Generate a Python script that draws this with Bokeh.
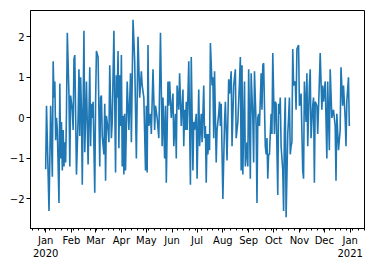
import pandas as pd
from bokeh.plotting import figure
from bokeh.models import FixedTicker, Range1d
from bokeh.embed import file_html
from bokeh.resources import INLINE

# (day offset from 2020-01-01, value)
readings_q1 = [(0,-1.27),(1,0.3),(4,-2.3),(6,0.3),(8,-1.45),(9,1.4),(10,0.5),(11,0.9),(12,-0.55),(13,0.0),
    (14,-0.3),(16,-2.1),(17,0.85),(18,-1.0),(19,-0.1),(20,-1.3),(21,-0.3),(22,-1.2),(23,-0.6),(24,-1.1),
    (25,0.1),(26,2.1),(28,0.55),(29,-1.2),(30,0.55),(32,0.2),(33,-0.3),(34,1.45),(35,1.55),(37,-1.4),
    (39,0.0),(40,1.2),(41,-0.45),(42,1.0),(43,0.2),(44,-1.65),(46,2.15),(47,-0.85),(49,0.9),(51,-1.15),
    (53,1.25),(54,-0.7),(55,0.35),(56,0.0),(57,0.4),(59,-1.85),(60,0.4),(61,1.65),(63,1.5),(65,-1.2),
    (66,0.5),(67,0.55),(68,-0.45),(70,-0.9),(71,0.35),(72,-1.55),(73,0.05),(75,-0.3),(76,-0.6),(77,1.3),
    (79,-0.5),(80,-0.1),(82,2.15),(84,-1.35),(85,1.05),(86,0.5),(87,1.65),(88,-0.75),(89,1.05),(90,-0.2),
    (91,1.55),(92,-1.2),(93,0.05),(94,-1.4),(95,0.1),(96,-1.3),(98,0.9),(100,-0.3),(102,1.1),(103,-0.6)]
readings_q2 = [(105,2.42),(107,1.4),(109,-1.0),(111,2.0),(113,0.5),(115,1.15),(116,0.8),(118,0.5),(120,-1.3),
    (121,0.3),(122,-1.35),(123,1.8),(124,-0.2),(126,0.1),(127,-0.4),(129,1.2),(131,-0.3),(132,0.3),(134,0.0),
    (136,-0.5),(138,2.1),(140,-0.7),(141,0.5),(143,-1.0),(144,0.3),(145,-1.6),(147,0.9),(148,0.3),(149,0.9),
    (151,0.0),(153,0.6),(154,-0.7),(156,0.1),(157,-1.0),(158,0.8),(160,0.2),(161,1.1),(163,-0.2),(165,0.7),
    (166,-0.7),(167,0.2),(168,-0.3),(169,0.4),(170,-0.3),(172,1.4),(174,-1.65),(175,1.5),(177,-1.3),(178,-0.1),
    (179,-0.3),(181,0.1),(182,-1.5),(184,0.7),(185,-0.7),(187,0.1),(188,-0.6),(190,0.8),(191,-0.5),(192,-0.2),
    (193,-1.6),(194,-0.4),(195,-0.9),(196,-0.4),(197,-0.8),(198,1.85),(200,0.8),(201,1.0),(202,-0.5),(203,1.15),
    (205,-1.1),(206,-0.3),(208,0.1),(209,0.4),(210,-0.2),(211,0.35),(213,-2.0),(215,-0.1),(216,0.4),(218,-1.05),
    (220,0.95),(221,0.6),(223,1.15),(224,-0.7),(226,0.8),(228,1.2),(229,-0.5),(231,-0.1),(233,0.9),(234,1.5),
    (235,-1.3)]
readings_q3 = [(236,1.3),(237,-1.4),(239,0.9),(240,-1.2),(242,-0.6),(243,-1.2),(244,1.2),(245,0.0),(246,-1.5),
    (247,1.1),(249,0.0),(250,-1.1),(251,1.15),(253,-0.2),(254,-2.1),(255,0.0),(256,0.1),(257,-0.2),(259,1.1),
    (260,0.2),(261,1.3),(262,1.35),(264,-0.7),(265,-0.9),(266,-0.5),(267,-1.5),(268,-0.9),(269,-0.9),(271,0.1),
    (272,-0.4),(273,1.6),(275,-0.4),(276,0.4),(277,0.35),(279,-1.9),(280,0.35),(281,0.1),(282,0.5),(283,-0.7),
    (285,-1.3),(286,-2.3),(287,-0.3),(288,0.5),(289,-2.45),(291,-0.4),(292,0.0),(293,0.5),(294,-0.9),(295,-0.7),
    (296,-0.6),(297,1.7),(298,0.8),(300,0.9),(301,0.2),(302,1.7),(304,1.8),(305,0.3),(306,0.4),(307,0.6),
    (309,-1.3),(310,-1.5),(311,0.9),(313,-0.1),(314,1.1),(315,-0.7),(317,0.8),(318,1.2),(319,-0.5),(321,0.3),
    (322,0.5),(323,-1.6),(324,0.4),(326,0.3),(327,-0.4),(329,0.9),(330,1.6),(332,0.2),(333,0.8),(334,0.4),
    (336,0.9),(338,-1.0),(339,0.9),(341,-0.8),(342,1.2),(344,0.0),(345,0.1),(346,0.2),(348,-0.2),(349,-1.55),
    (350,0.1),(352,-0.8),(354,-0.3),(355,1.25),(357,0.3),(358,0.8),(360,0.0),(361,-0.7),(362,0.4),(364,1.0),
    (365,-0.2)]

month_labels = ["Jan\n2020", "Feb", "Mar", "Apr", "May", "Jun", "Jul", "Aug", "Sep", "Oct", "Nov", "Dec", "Jan\n2021"]
y_ticks = [-2, -1, 0, 1, 2]
y_labels = ["\u22122", "\u22121", "0", "1", "2"]

start = pd.Timestamp("2020-01-01")
readings = readings_q1 + readings_q2 + readings_q3
dates = [start + pd.Timedelta(days=d) for d, _ in readings]
vals = [v for _, v in readings]

def ms(ts):
    return int(ts.value // 10**6)

month_starts = pd.date_range("2020-01-01", "2021-01-01", freq="MS")
major = [ms(t) for t in month_starts]
weeks = pd.date_range("2019-12-16", "2021-01-18", freq="W-MON")
minor = [ms(t) for t in weeks if ms(t) not in major]

p = figure(width=374, height=263, output_backend="svg", toolbar_location=None,
           x_axis_type="datetime",
           x_range=Range1d(ms(start - pd.Timedelta(days=18.25)), ms(start + pd.Timedelta(days=383.25))),
           y_range=Range1d(-2.73, 2.65))
p.min_border_left = 30
p.min_border_right = 10
p.min_border_top = 10
p.min_border_bottom = 35
p.background_fill_color = "white"
p.border_fill_color = "white"
p.outline_line_color = "black"
p.outline_line_width = 1
p.grid.visible = False

p.line(dates, vals, line_color="#1f77b4", line_width=1.6)

p.xaxis.ticker = FixedTicker(ticks=major, minor_ticks=minor)
p.xaxis.major_label_overrides = {t: lab for t, lab in zip(major, month_labels)}
p.yaxis.ticker = FixedTicker(ticks=y_ticks)
p.yaxis.major_label_overrides = {t: lab for t, lab in zip(y_ticks, y_labels)}

for ax in (p.xaxis[0], p.yaxis[0]):
    ax.major_label_text_font = "DejaVu Sans"
    ax.major_label_text_font_size = "10px"
    ax.major_label_text_color = "black"
    ax.major_tick_out = 4
    ax.major_tick_in = 0
    ax.minor_tick_out = 2
    ax.minor_tick_in = 0
    ax.major_tick_line_color = "black"
    ax.minor_tick_line_color = "black"
    ax.axis_line_color = "black"
    ax.major_label_standoff = 2
p.yaxis.minor_tick_line_color = None

open("out.html", "w").write(file_html(p, INLINE))
